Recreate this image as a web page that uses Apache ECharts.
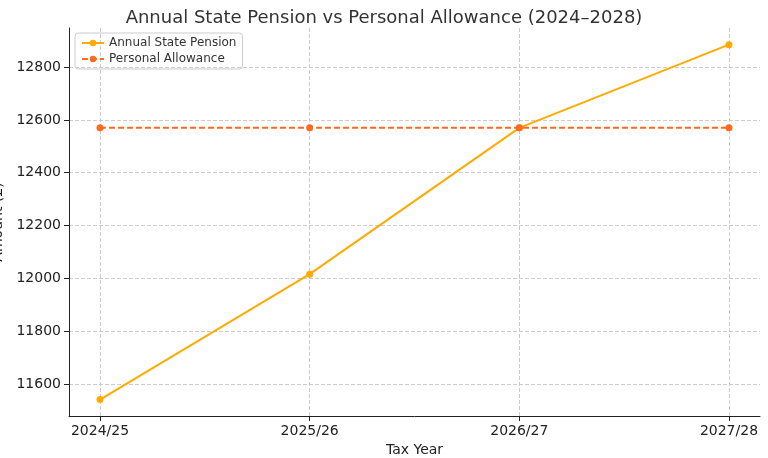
<!DOCTYPE html>
<html>
<head>
<meta charset="utf-8">
<script src="https://cdn.jsdelivr.net/npm/echarts@6/dist/echarts.min.js"></script>
<style>html,body{margin:0;padding:0;background:#fff}#container{width:768px;height:458px}</style>
</head>
<body>
<div id="container"></div>
<script>
var years = ['2024/25', '2025/26', '2026/27', '2027/28'];
var statePension = [11541, 12016, 12570, 12885];
var personalAllowance = [12570, 12570, 12570, 12570];
var yTicks = [11600, 11800, 12000, 12200, 12400, 12600, 12800];

function pairs(vals) {
    var out = [];
    for (var i = 0; i < vals.length; i++) {
        out.push([i, vals[i]]);
    }
    return out;
}

var myChart = echarts.init(document.getElementById('container'));
var font = 'DejaVu Sans';
option = {
    animation: false,
    textStyle: { fontFamily: font },
    title: {
        text: 'Annual State Pension vs Personal Allowance (2024\u20132028)',
        left: 'center', top: 4,
        textStyle: { fontFamily: font, fontSize: 18, fontWeight: 'normal', color: '#333' }
    },
    legend: {
        left: 75, top: 33, orient: 'vertical', itemGap: 4,
        borderColor: '#ccc', borderWidth: 1, borderRadius: 3, padding: [4, 6],
        itemWidth: 22, itemHeight: 8,
        textStyle: { fontFamily: font, fontSize: 12, color: '#333' },
        data: ['Annual State Pension', 'Personal Allowance']
    },
    grid: { left: 69, right: 8, top: 28, bottom: 42, outerBoundsMode: 'none', containLabel: false },
    xAxis: {
        type: 'value', min: -0.148, max: 3.148,
        name: 'Tax Year', nameLocation: 'middle', nameGap: 26,
        nameTextStyle: { fontFamily: font, fontSize: 14, color: '#222' },
        axisLine: { onZero: false, lineStyle: { color: '#222' } },
        axisTick: { customValues: [0, 1, 2, 3], lineStyle: { color: '#222' } },
        axisLabel: {
            customValues: [0, 1, 2, 3], fontSize: 14, color: '#222',
            formatter: function (v) { return years[Math.round(v)]; }
        },
        splitLine: { show: true, lineStyle: { color: '#ccc', type: 'dashed' } }
    },
    yAxis: {
        type: 'value', min: 11479, max: 12948,
        name: 'Amount (\u00a3)', nameLocation: 'middle', nameGap: 52,
        nameTextStyle: { fontFamily: font, fontSize: 14, color: '#222' },
        axisLine: { show: true, onZero: false, lineStyle: { color: '#222' } },
        axisTick: { show: true, customValues: yTicks, lineStyle: { color: '#222' } },
        axisLabel: {
            customValues: yTicks, fontSize: 14, color: '#222',
            formatter: function (v) { return String(v); }
        },
        splitLine: { show: true, lineStyle: { color: '#ccc', type: 'dashed' } }
    },
    series: [{
        name: 'Annual State Pension', type: 'line', data: pairs(statePension),
        symbol: 'circle', symbolSize: 7,
        itemStyle: { color: '#ffaa00' }, lineStyle: { color: '#ffaa00', width: 2 }
    }, {
        name: 'Personal Allowance', type: 'line', data: pairs(personalAllowance),
        symbol: 'circle', symbolSize: 7,
        itemStyle: { color: '#ff6a1f' }, lineStyle: { color: '#ff6a1f', width: 2, type: [6, 3] }
    }]
};
myChart.setOption(option, true);
</script>
</body>
</html>
